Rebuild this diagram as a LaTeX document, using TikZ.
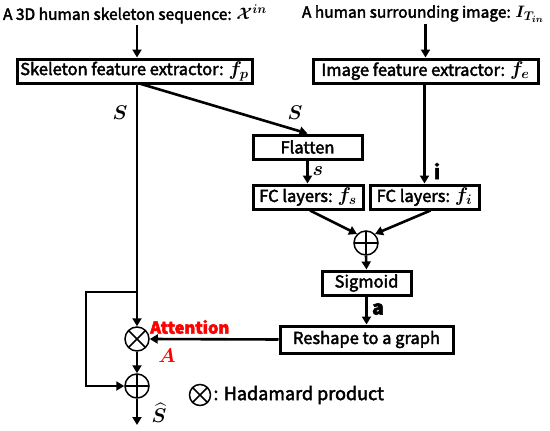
\documentclass[tikz,border=0pt]{standalone}
\usepackage{fontspec}
\setmainfont{Noto Sans CJK JP}[FakeBold=2.5]
\usepackage{amsmath,bm}
\usetikzlibrary{arrows.meta,calc}
\newcommand\mv[1]{\scalebox{1.15}{$\bm{#1}$}}
\begin{document}
\begin{tikzpicture}[x=1pt,y=-1pt,
  box/.style={draw,line width=3pt,minimum height=24pt,inner sep=0pt,font=\fontsize{16.5}{18}\selectfont},
  arr/.style={line width=2.6pt,-{Triangle[length=8pt,width=9pt]}},
  opc/.style={circle,draw,line width=1.5pt,minimum size=24pt,inner sep=0pt},
  timesop/.style={opc,path picture={\draw[line width=1.5pt] (path picture bounding box.north west) -- (path picture bounding box.south east) (path picture bounding box.north east) -- (path picture bounding box.south west);}},
  plusop/.style={opc,path picture={\draw[line width=1.5pt] (path picture bounding box.north) -- (path picture bounding box.south) (path picture bounding box.west) -- (path picture bounding box.east);}},
  ttl/.style={font=\fontsize{15.5}{18}\selectfont,inner sep=1pt},
  lbl/.style={font=\fontsize{17}{18}\selectfont,inner sep=0pt}
]
\useasboundingbox (0,0) rectangle (550,431);
\node[ttl] (tl) at (135,14) {A 3D human skeleton sequence: \mv{\mathcal{X}^{in}}};
\node[ttl] (tr) at (423,14) {A human surrounding image: \mv{I_{T_{in}}}};
\node[box,minimum width=235pt] (sk) at (134.5,71) {Skeleton feature extractor: \mv{f_p}};
\node[box,minimum width=225pt] (im) at (425.5,71) {Image feature extractor: \mv{f_e}};
\node[box,minimum width=109pt] (fl) at (307.5,147) {Flatten};
\node[box,minimum width=110pt] (fs) at (308,197) {FC layers: \mv{f_s}};
\node[box,minimum width=109pt] (fi) at (424.5,197) {FC layers: \mv{f_i}};
\node[plusop] (pl) at (366,243) {};
\node[box,minimum width=89pt] (sg) at (366.5,283) {Sigmoid};
\node[box,minimum width=173pt,minimum height=27pt] (rs) at (366.5,339.5) {Reshape to a graph};
\node[timesop] (mul) at (137,339) {};
\node[plusop] (add) at (137,386) {};
\node[timesop,minimum size=21pt] (lg) at (200,395) {};
\node[anchor=west,font=\fontsize{18}{20}\selectfont,inner sep=2pt] (lgt) at (lg.east) {: Hadamard product};
\coordinate (out) at (137,425);
\coordinate (br) at (137,292);
\coordinate (bl) at (86,292);
\coordinate (bd) at (86,386);
\coordinate (sd) at (141,84);
% connectors
\draw[arr] (tl.south -| mul) -- (mul |- sk.north);
\draw[arr] (tr.south -| im) -- (im.north);
\draw[arr] (mul |- sk.south) -- (mul.north);
\draw[arr] (sd) -- (fl.north);
\draw[arr] (fl.south) -- (fl.south |- fs.north);
\draw[arr] (fi |- im.south) -- (fi.north);
\draw[arr] ($(fs.south)+(2,0)$) -- (pl.north west);
\draw[arr] ($(fi.south)+(6,0)$) -- (pl.north east);
\draw[arr] (pl.south) -- (sg.north);
\draw[arr] (sg.south) -- (rs.north);
\draw[arr] (rs.west) -- (mul.east);
\draw[arr] (mul.south) -- (add.north);
\draw[arr] (add.south) -- (out);
\draw[arr] (br) -- (bl) -- (bd) -- (add.west);
% labels
\node[lbl] (lS1) at (120,113) {\mv{S}};
\node[lbl] (lS2) at (295,113) {\mv{S}};
\node[lbl] (ls) at (318,171) {\mv{s}};
\node[lbl] (li) at (437,171) {\mv{\mathrm{i}}};
\node[lbl] (la) at (378,309) {\mv{\mathrm{a}}};
\node[lbl] (lh) at (159,413) {\mv{\widehat{S}}};
\node[lbl,text=red,font=\fontsize{16.5}{18}\selectfont\bfseries,anchor=west] (att) at (150,327) {Attention};
\node[lbl,text=red] (lA) at (167,356) {\mv{A}};
\end{tikzpicture}
\end{document}
